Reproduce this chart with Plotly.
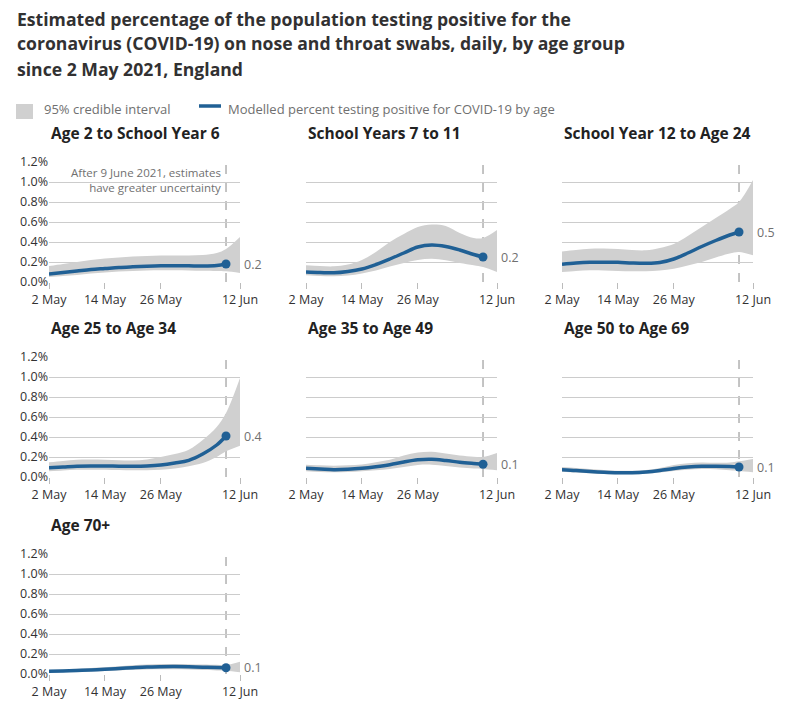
import plotly.graph_objects as go

W, H = 799, 723

title_lines = [
    "Estimated percentage of the population testing positive for the",
    "coronavirus (COVID-19) on nose and throat swabs, daily, by age group",
    "since 2 May 2021, England",
]

panel_titles = [
    "Age 2 to School Year 6",
    "School Years 7 to 11",
    "School Year 12 to Age 24",
    "Age 25 to Age 34",
    "Age 35 to Age 49",
    "Age 50 to Age 69",
    "Age 70+",
]

dates = ["2021-05-02", "2021-05-05", "2021-05-08", "2021-05-11", "2021-05-14",
         "2021-05-17", "2021-05-20", "2021-05-23", "2021-05-26", "2021-05-29",
         "2021-06-01", "2021-06-04", "2021-06-07", "2021-06-09", "2021-06-12"]
line_dates = dates[:14]

estimate = [
    [0.08, 0.095, 0.11, 0.125, 0.135, 0.145, 0.152, 0.158, 0.162, 0.163, 0.162, 0.16, 0.165, 0.18],
    [0.10, 0.095, 0.092, 0.105, 0.13, 0.175, 0.23, 0.29, 0.35, 0.37, 0.355, 0.32, 0.275, 0.25],
    [0.177, 0.19, 0.197, 0.198, 0.197, 0.19, 0.187, 0.195, 0.23, 0.29, 0.355, 0.415, 0.47, 0.50],
    [0.093, 0.10, 0.107, 0.11, 0.11, 0.108, 0.107, 0.11, 0.12, 0.14, 0.167, 0.23, 0.32, 0.41],
    [0.087, 0.08, 0.073, 0.077, 0.087, 0.103, 0.123, 0.15, 0.172, 0.177, 0.165, 0.148, 0.135, 0.127],
    [0.073, 0.065, 0.055, 0.047, 0.042, 0.043, 0.05, 0.065, 0.085, 0.10, 0.108, 0.108, 0.105, 0.10],
    [0.027, 0.03, 0.035, 0.04, 0.047, 0.055, 0.063, 0.07, 0.073, 0.074, 0.072, 0.068, 0.065, 0.063],
]
upper = [
    [0.16, 0.18, 0.20, 0.22, 0.235, 0.245, 0.255, 0.26, 0.265, 0.265, 0.265, 0.27, 0.29, 0.33, 0.45],
    [0.167, 0.16, 0.157, 0.175, 0.22, 0.30, 0.40, 0.48, 0.55, 0.575, 0.56, 0.49, 0.44, 0.44, 0.52],
    [0.305, 0.32, 0.333, 0.335, 0.33, 0.32, 0.317, 0.34, 0.38, 0.46, 0.55, 0.64, 0.73, 0.80, 1.02],
    [0.147, 0.16, 0.173, 0.175, 0.173, 0.168, 0.165, 0.175, 0.20, 0.23, 0.273, 0.37, 0.50, 0.64, 0.99],
    [0.123, 0.117, 0.113, 0.117, 0.125, 0.148, 0.173, 0.215, 0.245, 0.253, 0.235, 0.215, 0.203, 0.20, 0.24],
    [0.10, 0.09, 0.08, 0.07, 0.062, 0.063, 0.07, 0.09, 0.12, 0.137, 0.145, 0.142, 0.145, 0.157, 0.18],
    [0.04, 0.045, 0.052, 0.06, 0.067, 0.078, 0.088, 0.096, 0.10, 0.10, 0.098, 0.095, 0.092, 0.09, 0.123],
]
lower = [
    [0.05, 0.06, 0.07, 0.085, 0.095, 0.105, 0.11, 0.115, 0.117, 0.117, 0.115, 0.112, 0.11, 0.107, 0.09],
    [0.067, 0.06, 0.057, 0.065, 0.085, 0.115, 0.155, 0.19, 0.22, 0.232, 0.218, 0.19, 0.167, 0.15, 0.10],
    [0.10, 0.11, 0.117, 0.115, 0.11, 0.107, 0.107, 0.115, 0.133, 0.165, 0.20, 0.245, 0.285, 0.30, 0.267],
    [0.057, 0.065, 0.073, 0.073, 0.073, 0.07, 0.067, 0.068, 0.073, 0.085, 0.107, 0.14, 0.20, 0.257, 0.313],
    [0.057, 0.05, 0.047, 0.05, 0.057, 0.068, 0.08, 0.10, 0.12, 0.123, 0.11, 0.095, 0.085, 0.08, 0.067],
    [0.053, 0.045, 0.037, 0.03, 0.027, 0.027, 0.033, 0.045, 0.06, 0.072, 0.08, 0.077, 0.068, 0.06, 0.047],
    [0.017, 0.02, 0.023, 0.027, 0.03, 0.036, 0.042, 0.046, 0.047, 0.047, 0.045, 0.04, 0.036, 0.033, 0.017],
]
end_labels = ["0.2", "0.2", "0.5", "0.4", "0.1", "0.1", "0.1"]

tick_vals = ["2021-05-02", "2021-05-14", "2021-05-26", "2021-06-12"]
tick_text = ["2 May", "14 May", "26 May", "12 Jun"]
y_ticks = [0, 0.2, 0.4, 0.6, 0.8, 1.0, 1.2]
cutoff_date = "2021-06-09"
annotation_text = "After 9 June 2021, estimates<br>have greater uncertainty"

BLUE = "#206095"
BAND = "#d0d0d0"
GRID = "#cccccc"
TEXT = "#323132"
MUTED = "#707070"
FONT = "Open Sans"

# pixel layout (page coordinates); the page body adds an 8px offset
OFF = 8
col_x = [(49, 240), (306, 497), (562, 753)]
row_y = [(162, 282), (357, 477), (554, 674)]


def px(x):
    return (x - OFF) / W


def py(y):
    return 1 - (y - OFF) / H


fig = go.Figure()
layout = dict(
    template="none",
    width=W, height=H,
    margin=dict(l=0, r=0, t=0, b=0, pad=0, autoexpand=False),
    paper_bgcolor="white", plot_bgcolor="white",
    showlegend=False,
    font=dict(family=FONT, size=12, color=TEXT),
)
annotations = []
shapes = []

for i in range(7):
    r, c = divmod(i, 3)
    n = i + 1
    xa = "x" if n == 1 else f"x{n}"
    ya = "y" if n == 1 else f"y{n}"
    # band
    fig.add_trace(go.Scatter(x=dates, y=lower[i], mode="lines",
                             line=dict(width=0, color=BAND, shape="spline"),
                             xaxis=xa, yaxis=ya, hoverinfo="skip"))
    fig.add_trace(go.Scatter(x=dates, y=upper[i], mode="lines",
                             line=dict(width=0, color=BAND, shape="spline"),
                             fill="tonexty", fillcolor=BAND,
                             xaxis=xa, yaxis=ya, hoverinfo="skip"))
    # line
    fig.add_trace(go.Scatter(x=line_dates, y=estimate[i], mode="lines",
                             line=dict(width=3.5, color=BLUE, shape="spline"),
                             xaxis=xa, yaxis=ya))
    fig.add_trace(go.Scatter(x=[line_dates[-1]], y=[estimate[i][-1]], mode="markers",
                             marker=dict(size=9, color=BLUE),
                             xaxis=xa, yaxis=ya))
    x0, x1 = col_x[c]
    y0, y1 = row_y[r]
    layout["xaxis" if n == 1 else f"xaxis{n}"] = dict(
        domain=[px(x0), px(x1)], anchor=ya, automargin=False,
        type="date", range=["2021-05-02", "2021-06-12"],
        tickvals=tick_vals, ticktext=tick_text,
        ticks="outside", ticklen=6, tickcolor="#bbbbbb", tickwidth=1,
        showgrid=False, zeroline=False, showline=False,
        tickfont=dict(family=FONT, size=12.5, color=TEXT),
    )
    layout["yaxis" if n == 1 else f"yaxis{n}"] = dict(
        domain=[py(y1), py(y0)], anchor=xa, automargin=False,
        range=[0, 1.2], tickvals=y_ticks,
        ticktext=[f"{v:.1f}%" for v in y_ticks],
        showticklabels=(c == 0),
        showgrid=True, gridcolor=GRID, gridwidth=1,
        zeroline=False, showline=False, ticks="",
        tickfont=dict(family=FONT, size=12.5, color=TEXT),
    )
    # cutoff dashed line
    shapes.append(dict(type="line", xref=xa, yref=f"{ya} domain",
                       x0=cutoff_date, x1=cutoff_date, y0=0, y1=1,
                       line=dict(color="#b0b0b0", width=1.5, dash="dash"),
                       layer="below"))
    # panel title
    annotations.append(dict(text=f"<b>{panel_titles[i]}</b>", xref="paper", yref="paper",
                            x=px(x0), y=py(y0 - 29), xanchor="left", yanchor="middle",
                            showarrow=False, font=dict(family=FONT, size=15.5, color="#222222")))
    # end label
    annotations.append(dict(text=end_labels[i], xref=xa, yref=ya,
                            x="2021-06-12", y=estimate[i][-1], xanchor="left", yanchor="middle",
                            xshift=2, showarrow=False,
                            font=dict(family=FONT, size=12.5, color=MUTED)))

# uncertainty note in first panel
annotations.append(dict(text=annotation_text, xref="x", yref="y domain",
                        x=cutoff_date, y=1, xanchor="right", yanchor="top",
                        xshift=-3, yshift=-1, align="right", showarrow=False,
                        font=dict(family=FONT, size=11.5, color=MUTED)))

# main title
title_y = [19.5, 43, 69]
for k, line in enumerate(title_lines):
    annotations.append(dict(text=f"<b>{line}</b>", xref="paper", yref="paper",
                            x=px(16), y=py(title_y[k]), xanchor="left", yanchor="middle",
                            showarrow=False, borderpad=0,
                            font=dict(family=FONT, size=17.6, color="#323132")))

# legend
shapes.append(dict(type="rect", xref="paper", yref="paper",
                   x0=px(16), x1=px(33), y0=py(119), y1=py(104),
                   fillcolor=BAND, line=dict(width=0)))
annotations.append(dict(text="95% credible interval", xref="paper", yref="paper",
                        x=px(42), y=py(109), xanchor="left", yanchor="middle",
                        showarrow=False, font=dict(family=FONT, size=13, color=MUTED)))
shapes.append(dict(type="line", xref="paper", yref="paper",
                   x0=px(199), x1=px(221), y0=py(106), y1=py(106),
                   line=dict(color=BLUE, width=3.5)))
annotations.append(dict(text="Modelled percent testing positive for COVID-19 by age",
                        xref="paper", yref="paper",
                        x=px(226), y=py(109), xanchor="left", yanchor="middle",
                        showarrow=False, font=dict(family=FONT, size=13, color=MUTED)))

layout["annotations"] = annotations
layout["shapes"] = shapes
fig.update_layout(**layout)
fig.write_html("out.html")
